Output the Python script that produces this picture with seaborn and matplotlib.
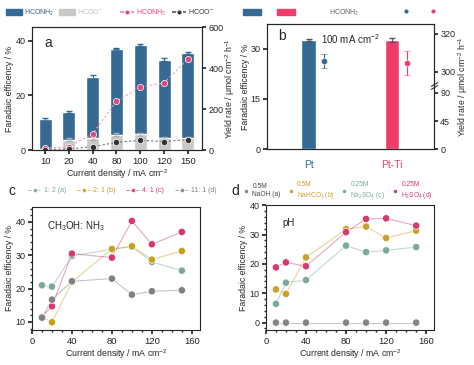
import numpy as np
import pandas as pd
import matplotlib
matplotlib.use('Agg')
import matplotlib.pyplot as plt
import seaborn as sns
from matplotlib.patches import Patch
from matplotlib.lines import Line2D

# panel a
densities = ['10', '20', '40', '80', '100', '120', '150']
fe_hconh2 = [11.2, 14.0, 26.8, 37.1, 38.3, 33.0, 35.4]
fe_hconh2_err = [0.6, 0.4, 0.8, 0.3, 0.4, 0.6, 0.4]
fe_hcoo = [0.4, 3.8, 4.3, 5.6, 5.8, 4.5, 4.4]
fe_hcoo_err = [0.2, 0.6, 0.5, 0.6, 0.5, 0.4, 0.4]
yield_hconh2 = [10, 15, 80, 238, 307, 327, 444]
yield_hcoo = [2, 5, 16, 37, 48, 41, 51]

# panel b
catalysts = ['Pt', 'Pt-Ti']
fe_cat = [32.7, 32.6]
fe_cat_err = [0.3, 0.6]
yield_cat = [305.8, 304.8]
yield_cat_err = [3.7, 6.3]

# panel c / d
current = [10, 20, 40, 80, 100, 120, 150]
ratio_labels = ['1: 2 (a)', '2: 1 (b)', '4: 1 (c)', '11: 1 (d)']
fe_ratio_a = [21.0, 20.6, 29.8, 31.8, 32.6, 28.0, 25.4]
fe_ratio_b = [11.5, 9.9, 22.0, 31.9, 32.7, 28.7, 31.3]
fe_ratio_c = [11.5, 14.7, 30.5, 29.3, 40.3, 33.3, 37.0]
fe_ratio_d = [11.3, 16.7, 22.2, 23.0, 18.2, 19.2, 19.5]

ph_labels = ['0.5M\nNaOH (a)', '0.5M\nNaHCO$_3$ (b)', '0.25M\nNa$_2$SO$_4$ (c)', '0.25M\nH$_2$SO$_4$ (d)']
fe_naoh = [0, 0, 0, 0, 0, 0, 0]
fe_nahco3 = [11.3, 9.8, 22.2, 31.8, 32.7, 28.8, 31.3]
fe_na2so4 = [6.4, 13.6, 14.5, 26.2, 24.0, 24.6, 25.7]
fe_h2so4 = [18.8, 20.5, 19.2, 30.8, 35.3, 35.5, 33.0]

blue = '#346a93'
grey_bar = '#c8c8c8'
pink = '#e8457a'
pink_bar = '#ee3d6b'
c_cols = ['#7aa99a', '#c4a21f', '#d43a6e', '#808080']
d_cols = ['#858585', '#c9a02a', '#7aab9e', '#d63a6a']

sns.set_theme(style='ticks')
plt.rcParams['font.family'] = ['Liberation Sans', 'DejaVu Sans']
plt.rcParams['font.size'] = 7
plt.rcParams['axes.linewidth'] = 0.8
plt.rcParams['xtick.major.size'] = 3
plt.rcParams['ytick.major.size'] = 3
plt.rcParams['xtick.major.pad'] = 2
plt.rcParams['ytick.major.pad'] = 1.5
plt.rcParams['xtick.labelsize'] = 6.8
plt.rcParams['ytick.labelsize'] = 6.5
plt.rcParams['axes.labelsize'] = 6.3
plt.rcParams['mathtext.default'] = 'regular'

fig = plt.figure(figsize=(4.74, 3.65), dpi=100)
ax_a = fig.add_axes([0.0675, 0.589, 0.359, 0.337])
ax_b = fig.add_axes([0.5627, 0.591, 0.353, 0.343])
ax_c = fig.add_axes([0.0675, 0.096, 0.354, 0.337])
ax_d = fig.add_axes([0.561, 0.096, 0.355, 0.342])

xlab = 'Current density / mA cm$^{-2}$'
ylab = 'Faradaic efficency / %'
ylab2 = 'Yield rate / μmol cm$^{-2}$ h$^{-1}$'

# ---- a ----
df_a = pd.DataFrame({'j': densities, 'hconh2': fe_hconh2, 'hcoo': fe_hcoo})
sns.barplot(data=df_a, x='j', y='hconh2', color=blue, width=0.55, saturation=1, ax=ax_a)
sns.barplot(data=df_a, x='j', y='hcoo', color=grey_bar, width=0.55, saturation=1, ax=ax_a)
pos = np.arange(len(densities))
ax_a.errorbar(pos, fe_hconh2, yerr=fe_hconh2_err, fmt='none', ecolor=blue, elinewidth=0.8, capsize=2)
ax_a.errorbar(pos, fe_hcoo, yerr=fe_hcoo_err, fmt='none', ecolor='#b0b0b0', elinewidth=0.8, capsize=2)
ax_a.set_xlim(-0.55, 6.6)
ax_a.set_ylim(0, 45)
ax_a.set_yticks([0, 20, 40])
ax_a.set_xlabel(xlab, labelpad=1)
ax_a.set_ylabel(ylab, labelpad=1)
ax_a.text(0.07, 0.93, 'a', transform=ax_a.transAxes, fontsize=10, va='top')

ax_a2 = ax_a.twinx()
ax_a2.plot(pos, yield_hconh2, ls='--', dashes=(2, 2), color='#f3a0b8', lw=0.8, marker='o', ms=4.5,
           mfc=pink, mec='white', mew=0.5)
ax_a2.plot(pos, yield_hcoo, ls='--', dashes=(2, 2), color='#777777', lw=0.8, marker='o', ms=4.5,
           mfc='#333333', mec='white', mew=0.5)
ax_a2.set_ylim(0, 600)
ax_a2.set_yticks([0, 200, 400, 600])
ax_a2.set_ylabel(ylab2, labelpad=0)

leg1 = fig.legend(handles=[Patch(color=blue), Patch(color=grey_bar)], labels=['HCONH$_2$', 'HCOO$^{-}$'],
                  loc='center left', bbox_to_anchor=(0.0, 0.966), ncol=2, frameon=False, fontsize=5,
                  handlelength=2.2, handleheight=1.0, columnspacing=0.8, handletextpad=0.3)
leg1.get_texts()[0].set_color('#3a5f80')
leg1.get_texts()[1].set_color('#c0c0c0')
leg2 = fig.legend(handles=[Line2D([], [], ls='--', color='#f3a0b8', marker='o', mfc=pink, mec='white', ms=4),
                           Line2D([], [], ls='--', color='#777777', marker='o', mfc='#333333', mec='white', ms=4)],
                  labels=['HCONH$_2$', 'HCOO$^{-}$'], loc='center left', bbox_to_anchor=(0.24, 0.966), ncol=2,
                  frameon=False, fontsize=5, handlelength=2.0, columnspacing=0.8, handletextpad=0.3)
leg2.get_texts()[0].set_color(pink)
leg2.get_texts()[1].set_color('#333333')

# ---- b ----
cat_colors = [blue, pink_bar]
df_b = pd.DataFrame({'cat': catalysts, 'fe': fe_cat})
bx = np.arange(len(catalysts))
sns.barplot(data=df_b, x='cat', y='fe', color=blue, width=0.17, saturation=1, ax=ax_b)
for p, c in zip(ax_b.patches, cat_colors):
    p.set_facecolor(c)
ax_b.errorbar(bx, fe_cat, yerr=fe_cat_err, fmt='none', ecolor='#555555', elinewidth=0.8, capsize=2)
ax_b.set_xlim(-0.5, 1.5)
ax_b.set_ylim(0, 37.3)
ax_b.set_yticks([0, 15, 30])
ax_b.set_xlabel('')
ax_b.set_ylabel(ylab, labelpad=0)
ax_b.tick_params(axis='x', length=0, pad=8, labelsize=7.5)
for t, c in zip(ax_b.get_xticklabels(), cat_colors):
    t.set_color(c)
ax_b.text(0.07, 0.96, 'b', transform=ax_b.transAxes, fontsize=10, va='top')
ax_b.text(0.5, 0.88, '100 mA cm$^{-2}$', transform=ax_b.transAxes, fontsize=7, ha='center', va='center')

knots_v = [0, 95, 295, 330]
knots_p = [0, 59.5, 67.8, 134.3]
ax_b2 = ax_b.twinx()
ax_b2.set_yscale('function', functions=(lambda v: np.interp(v, knots_v, knots_p),
                                        lambda p: np.interp(p, knots_p, knots_v)))
for i, c in enumerate(cat_colors):
    ax_b2.errorbar(bx[i] + 0.18, yield_cat[i], yerr=yield_cat_err[i], fmt='o', color=c, ms=4.5,
                   mec='white', mew=0.4, elinewidth=0.8, ecolor=c, capsize=2)
ax_b2.set_ylim(0, 325)
ax_b2.set_yticks([0, 45, 90, 300, 320])
ax_b2.set_yticks([], minor=True)
ax_b2.set_ylabel(ylab2, labelpad=1)
ax_b2.plot([1, 1], [150, 230], transform=ax_b2.get_yaxis_transform(), ls='none', marker=[(-1, -0.6), (1, 0.6)],
           ms=5, mew=0.8, color='#333333', clip_on=False)

fig.legend(handles=[Patch(color=blue), Patch(color=pink_bar), Line2D([], [], ls='none')],
           labels=['', '', 'HCONH$_2$'], loc='center left', bbox_to_anchor=(0.5, 0.966), ncol=3,
           frameon=False, fontsize=5, handlelength=2.6, handleheight=1.0, columnspacing=2.0, handletextpad=0.2,
           labelcolor='#666666')
fig.legend(handles=[Line2D([], [], ls='none', marker='o', color=blue, mec='white', ms=4),
                    Line2D([], [], ls='none', marker='o', color=pink_bar, mec='white', ms=4)],
           labels=['', ''], loc='center left', bbox_to_anchor=(0.835, 0.966), ncol=2,
           frameon=False, fontsize=5, handlelength=1.0, columnspacing=3.0, handletextpad=0.0)

# ---- c ----
rows = []
for lab, vals in zip(ratio_labels, [fe_ratio_a, fe_ratio_b, fe_ratio_c, fe_ratio_d]):
    for x, v in zip(current, vals):
        rows.append({'j': x, 'fe': v, 'ratio': lab})
df_c = pd.DataFrame(rows)
sns.lineplot(data=df_c, x='j', y='fe', hue='ratio', palette=c_cols, lw=0.8, alpha=0.45, legend=False, ax=ax_c)
sns.scatterplot(data=df_c, x='j', y='fe', hue='ratio', palette=c_cols, s=28, edgecolor='white', linewidth=0.5,
                legend=False, ax=ax_c, zorder=3)
ax_c.set_xlim(0, 168)
ax_c.set_ylim(7.6, 44.5)
ax_c.set_xticks([0, 40, 80, 120, 160])
ax_c.set_yticks([10, 20, 30, 40])
ax_c.minorticks_on()
ax_c.tick_params(which='minor', length=1.5)
ax_c.set_xlabel(xlab, labelpad=1)
ax_c.set_ylabel(ylab, labelpad=1)
ax_c.text(0.09, 0.9, 'CH$_3$OH: NH$_3$', transform=ax_c.transAxes, fontsize=7, va='top')
legc = fig.legend(handles=[Line2D([], [], ls='--', lw=0.6, color=c, marker='o', ms=3.5, mec='white', alpha=0.9)
                           for c in c_cols],
                  labels=ratio_labels, loc='center left', bbox_to_anchor=(0.045, 0.477), ncol=4, frameon=False,
                  fontsize=5, handlelength=2.0, columnspacing=1.6, handletextpad=0.3)
for t, c in zip(legc.get_texts(), c_cols):
    t.set_color(c)
fig.text(0.017, 0.477, 'c', fontsize=10, va='center')
fig.text(0.488, 0.477, 'd', fontsize=10, va='center')

# ---- d ----
rows = []
for lab, vals in zip(ph_labels, [fe_naoh, fe_nahco3, fe_na2so4, fe_h2so4]):
    for x, v in zip(current, vals):
        rows.append({'j': x, 'fe': v, 'el': lab})
df_d = pd.DataFrame(rows)
sns.lineplot(data=df_d, x='j', y='fe', hue='el', palette=d_cols, lw=0.8, alpha=0.45, legend=False, ax=ax_d)
sns.scatterplot(data=df_d, x='j', y='fe', hue='el', palette=d_cols, s=28, edgecolor='white', linewidth=0.5,
                legend=False, ax=ax_d, zorder=3)
ax_d.set_xlim(0, 168)
ax_d.set_ylim(-2.5, 40)
ax_d.set_xticks([0, 40, 80, 120, 160])
ax_d.set_yticks([0, 10, 20, 30, 40])
ax_d.minorticks_on()
ax_d.tick_params(which='minor', length=1.5)
ax_d.set_xlabel(xlab, labelpad=1)
ax_d.set_ylabel(ylab, labelpad=1)
ax_d.text(0.1, 0.9, 'pH', transform=ax_d.transAxes, fontsize=7, va='top')
legd = fig.legend(handles=[Line2D([], [], ls='none', color=c, marker='o', ms=3.5, mec='white') for c in d_cols],
                  labels=ph_labels, loc='center left', bbox_to_anchor=(0.5, 0.477), ncol=4, frameon=False,
                  fontsize=4.8, handlelength=1.0, columnspacing=1.0, handletextpad=0.4)
for t, c in zip(legd.get_texts(), ['#444444'] + d_cols[1:]):
    t.set_color(c)

fig.savefig('out.png', dpi=100)
